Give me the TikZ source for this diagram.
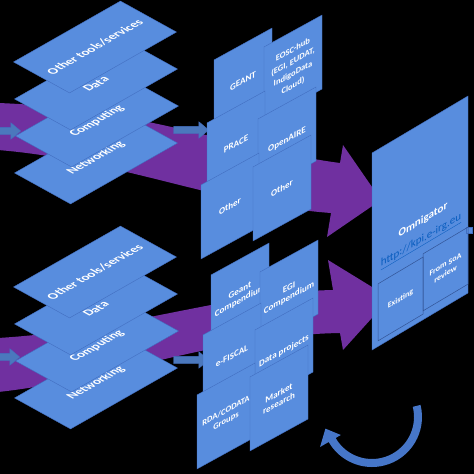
\documentclass[tikz,border=0pt]{standalone}
\usepackage{fontspec}
\setmainfont{Carlito}
\usetikzlibrary{shapes.arrows,calc}
\definecolor{sheetblue}{RGB}{88,141,222}
\definecolor{edgeblue}{RGB}{66,110,192}
\definecolor{boxline}{RGB}{50,84,150}
\definecolor{flowpurple}{RGB}{112,48,160}
\definecolor{linkblue}{RGB}{8,92,190}
\definecolor{loopblue}{RGB}{70,118,200}
\begin{document}
\begin{tikzpicture}[x=1pt,y=1pt,yscale=-1,
    slab/.style={draw=edgeblue, fill=sheetblue, line width=0.4pt,
      inner sep=1pt, text=white, align=center},
    sheet/.style={slab, minimum width=123pt, minimum height=64pt,
      font=\bfseries\fontsize{12.5}{14}\selectfont,
      cm={0.869,0.495,-0.875,0.484,(0,0)}},
    panel/.style={slab, minimum width=58pt, minimum height=74pt,
      font=\bfseries\fontsize{9}{10}\selectfont, yslant=0.55},
    bigpanel/.style={slab, minimum width=96pt, minimum height=197pt, yslant=0.594},
    cell/.style={draw=boxline, line width=0.5pt, minimum width=45pt,
      minimum height=57pt, inner sep=1pt, text=white, align=center,
      font=\bfseries\fontsize{8}{9.5}\selectfont, yslant=0.594},
    feed/.style={single arrow, draw=edgeblue, fill=sheetblue!85!black,
      minimum height=35pt, minimum width=16pt, inner sep=3.5pt,
      single arrow head extend=4.5pt, single arrow tip angle=80}]
    \fill[black] (0,0) rectangle (474,474);
    \useasboundingbox (0,0) rectangle (474,474);
    \fill[flowpurple] (-2,103) .. controls (140,108) and (240,150) .. (340,163)
      -- (343,145) -- (381,200) -- (327,237) -- (331,213)
      .. controls (220,205) and (120,160) .. (-2,150) -- cycle;
    \fill[flowpurple] (-2,338) .. controls (130,330) and (230,292) .. (333,290)
      -- (328,260) -- (390,298) -- (343,350) -- (340,333)
      .. controls (220,335) and (110,380) .. (-2,392) -- cycle;
    \node[feed] (a1) at (1,131) {};
    \node[feed] (a2) at (189,130) {};
    \node[feed] (a3) at (0,357) {};
    \node[feed] (a4) at (189,360) {};
    \node[sheet] (ne1) at (96,158) {Networking};
    \node[sheet] (co1) at (97,121) {Computing};
    \node[sheet] (da1) at (96,84) {Data};
    \node[sheet] (ot1) at (95,47) {Other tools/services};
    \node[sheet] (ne2) at (96,383) {Networking};
    \node[sheet] (co2) at (97,346) {Computing};
    \node[sheet] (da2) at (96,309) {Data};
    \node[sheet] (ot2) at (95,272) {Other tools/services};
    \node[panel] (geant) at (243,81) {GEANT};
    \node[panel, font=\bfseries\fontsize{8.5}{12}\selectfont] (eosc) at (293,68)
      {EOSC-hub\\(EGI, EUDAT,\\IndigoData\\Cloud)};
    \node[panel] (prace) at (236,144) {PRACE};
    \node[panel] (openaire) at (287,140) {OpenAIRE};
    \node[panel] (othA) at (230,206) {Other};
    \node[panel] (othB) at (282,188) {Other};
    \node[panel] (gcomp) at (240,296) {Geant\\Compendium};
    \node[panel] (egi) at (289,293) {EGI\\Compendium};
    \node[panel] (efiscal) at (232,356) {e-FISCAL};
    \node[panel] (dproj) at (284,351) {Data projects};
    \node[panel, font=\bfseries\fontsize{8.5}{10}\selectfont] (rda) at (226,416) {RDA/CODATA\\Groups};
    \node[panel] (market) at (279,398) {Market\\research};
    \node[bigpanel] (omni) at (420,223) {};
    \node[draw=edgeblue, fill=sheetblue, minimum size=6pt, inner sep=0pt] (nub) at (469,230) {};
    \node[text=white, font=\bfseries\fontsize{11}{12}\selectfont, yslant=0.594] (title) at (423,220) {Omnigator};
    \node[text=linkblue, font=\fontsize{11}{12}\selectfont, yslant=0.594] (link) at (421,241) {\underline{http://kpi.e-irg.eu}};
    \node[cell] (exist) at (400.5,299) {Existing};
    \node[cell] (soa) at (445.5,269) {From SoA\\review};
    \fill[loopblue] (372,417) ++(-14:50) arc[start angle=-14, end angle=150, radius=50]
      -- ($(372,417)+(150:60)$) -- ($(372,417)+(166:48)$) -- ($(372,417)+(150:36)$)
      -- ($(372,417)+(150:42)$) arc[start angle=150, end angle=-14, radius=42] -- cycle;
\end{tikzpicture}
\end{document}
